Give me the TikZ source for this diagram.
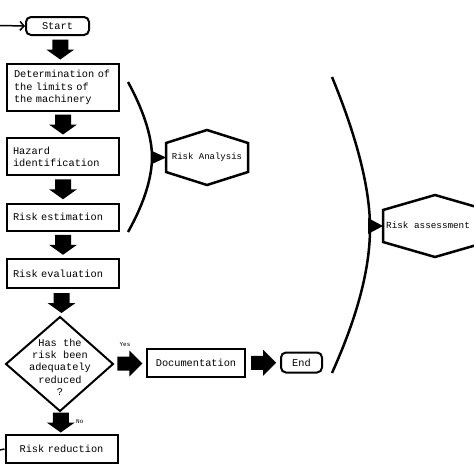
\documentclass[tikz,border=0pt]{standalone}
\usepackage{fontspec}
\setmainfont{Liberation Mono}
\usetikzlibrary{arrows.meta,calc}
\begin{document}
\begin{tikzpicture}[x=1pt,y=-1pt,
  txt/.style={font=\fontsize{10.3}{12.3}\selectfont},
  box/.style={txt,draw,line width=2pt,inner xsep=6pt,inner ysep=0pt,text width=100pt,align=left,minimum width=112pt},
  term/.style={txt,draw,line width=2pt,rounded corners=5pt,inner sep=0pt},
  hexline/.style={line width=2.5pt,line join=miter},
  brace/.style={line width=2.5pt},
  small/.style={font=\fontsize{6}{7}\selectfont,inner sep=0pt},
  downblk/.pic={\fill (-8,-10) -- (8,-10) -- (8,0) -- (14,0) -- (0,10) -- (-14,0) -- (-8,0) -- cycle;},
  rightblk/.pic={\fill (-12,-7) -- (0,-7) -- (0,-13) -- (13,0) -- (0,13) -- (0,7) -- (-12,7) -- cycle;}
]
\useasboundingbox (0,0) rectangle (474,474);
\clip (0,0) rectangle (474,474);

% flowchart nodes
\node[term,minimum width=63pt,minimum height=18pt] (start) at (57.5,26) {Start};
\node[box,minimum height=47pt,inner xsep=7pt,text width=98pt] (b1) at (63,87.5) {Determination of\\the limits of\\the machinery};
\node[box,minimum height=37pt] (b2) at (63,156.5) {Hazard\\identification};
\node[box,minimum height=27pt] (b3) at (63,217) {Risk estimation};
\node[box,minimum height=29pt] (b4) at (63,273.5) {Risk evaluation};
\coordinate (dc) at (60,364);
\coordinate (dn) at (60,317);
\coordinate (de) at (113,364);
\coordinate (ds) at (60,411);
\coordinate (dw) at (6,364);
\draw[line width=2pt,line join=miter] (dn) -- (de) -- (ds) -- (dw) -- cycle;
\node[txt,align=center,inner sep=0pt] (dec) at (60,367) {Has the\\risk been\\adequately\\reduced\\?};
\node[box,minimum height=28pt,text width=97pt,align=center] (b5) at (61.5,449) {Risk reduction};
\node[txt,draw,line width=2.5pt,minimum width=98pt,minimum height=28pt,inner sep=0pt] (doc) at (196,363) {Documentation};
\node[term,minimum width=41pt,minimum height=20pt] (end) at (301.5,362.5) {End};

% block arrows
\pic at ($(start.south)!0.5!(b1.north)$) {downblk};
\pic at ($(b1.south)!0.5!(b2.north)$) {downblk};
\pic at ($(b2.south)!0.5!(b3.north)$) {downblk};
\pic at ($(b3.south)!0.5!(b4.north)$) {downblk};
\pic at ($(b4.south)!0.5!(dn)$) {downblk};
\pic at ($(ds)!0.5!(b5.north)$) {downblk};
\pic at ($(de)!0.5!(doc.west)$) {rightblk};
\pic at ($(doc.east)!0.5!(end.west)$) {rightblk};
\node[small] (yes) at (125,345) {Yes};
\node[small,anchor=west] (no) at (76,422) {No};

% feedback stubs
\draw[line width=1.5pt,-{Straight Barb[length=4pt,width=9pt,line width=1.5pt]}] (0,25.5) -- (start.west);
\draw[line width=1.5pt] (0,450) -- (b5.west);

% risk analysis
\node[inner sep=0pt,font=\fontsize{9}{10}\selectfont] (ra) at (207,157.5) {Risk Analysis};
\draw[hexline] ($(ra)+(-41,-14.5)$) -- ($(ra)+(0,-27.5)$) -- ($(ra)+(41,-14.5)$) -- ($(ra)+(41,14.5)$) -- ($(ra)+(0,27.5)$) -- ($(ra)+(-41,14.5)$) -- cycle;
\coordinate (raw) at ($(ra)+(-41,0)$);
\draw[brace] (128,82) .. controls (146,115) and (152,140) .. (152,157) .. controls (152,175) and (146,200) .. (128,232);
\fill ($(raw)+(-15,-7)$) -- (raw) -- ($(raw)+(-15,7)$) -- cycle;

% risk assessment
\coordinate (rac) at (435,226);
\node[anchor=west,inner sep=0pt,font=\fontsize{9.3}{11}\selectfont] (rass) at (386,225) {Risk assessment};
\draw[hexline] ($(rac)+(-52,-16)$) -- ($(rac)+(0,-31)$) -- ($(rac)+(52,-16)$) -- ($(rac)+(52,16)$) -- ($(rac)+(0,31)$) -- ($(rac)+(-52,16)$) -- cycle;
\coordinate (rasw) at ($(rac)+(-52,0)$);
\draw[brace] (332,77) .. controls (358,140) and (370,190) .. (370,228) .. controls (370,268) and (358,315) .. (332,373);
\fill ($(rasw)+(-15,-8)$) -- (rasw) -- ($(rasw)+(-15,8)$) -- cycle;
\end{tikzpicture}
\end{document}
